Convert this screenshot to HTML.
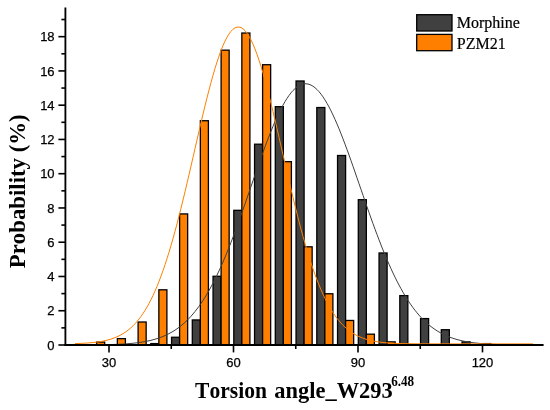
<!DOCTYPE html>
<html lang="en"><head><meta charset="utf-8"><title>Torsion angle W293 histogram</title>
<style>html,body{margin:0;padding:0;background:#fff;}svg{display:block;}</style></head>
<body>
<svg width="550" height="410" viewBox="0 0 550 410">
<rect width="550" height="410" fill="#fff"/>
<g stroke="#000" stroke-width="1.3">
<rect x="150.80" y="343.59" width="8.05" height="1.41" fill="#404040"/>
<rect x="171.55" y="337.26" width="8.05" height="7.74" fill="#404040"/>
<rect x="192.30" y="319.95" width="8.05" height="25.05" fill="#404040"/>
<rect x="213.05" y="276.27" width="8.05" height="68.73" fill="#404040"/>
<rect x="233.80" y="210.32" width="8.05" height="134.68" fill="#404040"/>
<rect x="254.55" y="144.20" width="8.05" height="200.80" fill="#404040"/>
<rect x="275.30" y="106.69" width="8.05" height="238.31" fill="#404040"/>
<rect x="296.05" y="80.99" width="8.05" height="264.01" fill="#404040"/>
<rect x="316.80" y="107.54" width="8.05" height="237.46" fill="#404040"/>
<rect x="337.55" y="155.51" width="8.05" height="189.49" fill="#404040"/>
<rect x="358.30" y="199.70" width="8.05" height="145.30" fill="#404040"/>
<rect x="379.05" y="252.98" width="8.05" height="92.02" fill="#404040"/>
<rect x="399.80" y="295.63" width="8.05" height="49.37" fill="#404040"/>
<rect x="420.55" y="318.58" width="8.05" height="26.42" fill="#404040"/>
<rect x="441.30" y="329.72" width="8.05" height="15.28" fill="#404040"/>
<rect x="462.05" y="341.87" width="8.05" height="3.13" fill="#404040"/>
<rect x="482.80" y="343.59" width="8.05" height="1.41" fill="#404040"/>
<rect x="96.60" y="342.05" width="8.05" height="2.95" fill="#ff8000"/>
<rect x="117.35" y="338.63" width="8.05" height="6.37" fill="#ff8000"/>
<rect x="138.10" y="322.01" width="8.05" height="22.99" fill="#ff8000"/>
<rect x="158.85" y="289.81" width="8.05" height="55.19" fill="#ff8000"/>
<rect x="179.60" y="213.92" width="8.05" height="131.08" fill="#ff8000"/>
<rect x="200.35" y="120.73" width="8.05" height="224.27" fill="#ff8000"/>
<rect x="221.10" y="50.16" width="8.05" height="294.84" fill="#ff8000"/>
<rect x="241.85" y="33.03" width="8.05" height="311.97" fill="#ff8000"/>
<rect x="262.60" y="64.72" width="8.05" height="280.28" fill="#ff8000"/>
<rect x="283.35" y="161.67" width="8.05" height="183.33" fill="#ff8000"/>
<rect x="304.10" y="246.81" width="8.05" height="98.19" fill="#ff8000"/>
<rect x="324.85" y="293.75" width="8.05" height="51.25" fill="#ff8000"/>
<rect x="345.60" y="320.47" width="8.05" height="24.53" fill="#ff8000"/>
<rect x="366.35" y="334.17" width="8.05" height="10.83" fill="#ff8000"/>
<rect x="387.10" y="341.87" width="8.05" height="3.13" fill="#ff8000"/>
</g>
<polyline fill="none" stroke="#404040" stroke-width="1" points="75.0,344.97 77.0,344.96 79.0,344.95 81.0,344.95 83.0,344.94 85.0,344.93 87.0,344.92 89.0,344.90 91.0,344.89 93.0,344.87 95.0,344.85 97.0,344.83 99.0,344.80 101.0,344.77 103.0,344.74 105.0,344.70 107.0,344.66 109.0,344.61 111.0,344.55 113.0,344.49 115.0,344.42 117.0,344.34 119.0,344.25 121.0,344.15 123.0,344.04 125.0,343.92 127.0,343.78 129.0,343.62 131.0,343.45 133.0,343.26 135.0,343.04 137.0,342.81 139.0,342.54 141.0,342.25 143.0,341.93 145.0,341.58 147.0,341.19 149.0,340.77 151.0,340.30 153.0,339.79 155.0,339.23 157.0,338.62 159.0,337.95 161.0,337.23 163.0,336.44 165.0,335.58 167.0,334.66 169.0,333.65 171.0,332.57 173.0,331.40 175.0,330.14 177.0,328.79 179.0,327.33 181.0,325.78 183.0,324.11 185.0,322.33 187.0,320.43 189.0,318.41 191.0,316.25 193.0,313.97 195.0,311.55 197.0,308.99 199.0,306.29 201.0,303.44 203.0,300.44 205.0,297.29 207.0,293.98 209.0,290.52 211.0,286.90 213.0,283.13 215.0,279.19 217.0,275.11 219.0,270.87 221.0,266.47 223.0,261.93 225.0,257.24 227.0,252.42 229.0,247.46 231.0,242.37 233.0,237.17 235.0,231.85 237.0,226.43 239.0,220.91 241.0,215.32 243.0,209.65 245.0,203.93 247.0,198.16 249.0,192.37 251.0,186.55 253.0,180.74 255.0,174.95 257.0,169.18 259.0,163.47 261.0,157.82 263.0,152.26 265.0,146.80 267.0,141.45 269.0,136.25 271.0,131.20 273.0,126.32 275.0,121.63 277.0,117.15 279.0,112.89 281.0,108.87 283.0,105.11 285.0,101.61 287.0,98.39 289.0,95.47 291.0,92.85 293.0,90.55 295.0,88.57 297.0,86.93 299.0,85.62 301.0,84.66 303.0,84.04 305.0,83.78 307.0,83.87 309.0,84.31 311.0,85.09 313.0,86.23 315.0,87.71 317.0,89.52 319.0,91.66 321.0,94.12 323.0,96.89 325.0,99.97 327.0,103.32 329.0,106.96 331.0,110.85 333.0,114.99 335.0,119.37 337.0,123.95 339.0,128.74 341.0,133.70 343.0,138.83 345.0,144.11 347.0,149.51 349.0,155.03 351.0,160.64 353.0,166.32 355.0,172.06 357.0,177.84 359.0,183.65 361.0,189.46 363.0,195.27 365.0,201.05 367.0,206.80 369.0,212.49 371.0,218.12 373.0,223.68 375.0,229.15 377.0,234.52 379.0,239.78 381.0,244.93 383.0,249.96 385.0,254.85 387.0,259.61 389.0,264.22 391.0,268.69 393.0,273.01 395.0,277.17 397.0,281.18 399.0,285.03 401.0,288.73 403.0,292.27 405.0,295.65 407.0,298.88 409.0,301.96 411.0,304.88 413.0,307.66 415.0,310.29 417.0,312.78 419.0,315.13 421.0,317.35 423.0,319.43 425.0,321.39 427.0,323.23 429.0,324.96 431.0,326.57 433.0,328.07 435.0,329.48 437.0,330.78 439.0,332.00 441.0,333.12 443.0,334.16 445.0,335.13 447.0,336.02 449.0,336.84 451.0,337.60 453.0,338.29 455.0,338.93 457.0,339.52 459.0,340.05 461.0,340.54 463.0,340.99 465.0,341.39 467.0,341.76 469.0,342.10 471.0,342.40 473.0,342.68 475.0,342.93 477.0,343.15 479.0,343.35 481.0,343.54 483.0,343.70 485.0,343.85 487.0,343.98 489.0,344.10 491.0,344.20 493.0,344.30 495.0,344.38 497.0,344.46 499.0,344.52 501.0,344.58 503.0,344.63 505.0,344.68 507.0,344.72 509.0,344.75 511.0,344.79 513.0,344.81 515.0,344.84 517.0,344.86 519.0,344.88 521.0,344.89 523.0,344.91 525.0,344.92 527.0,344.93 529.0,344.94 531.0,344.95 533.0,344.96"/>
<polyline fill="none" stroke="#ff8000" stroke-width="1" points="75.0,343.56 77.0,343.50 79.0,343.44 81.0,343.35 83.0,343.26 85.0,343.15 87.0,343.03 89.0,342.88 91.0,342.72 93.0,342.53 95.0,342.31 97.0,342.06 99.0,341.78 101.0,341.45 103.0,341.08 105.0,340.67 107.0,340.19 109.0,339.66 111.0,339.06 113.0,338.39 115.0,337.64 117.0,336.80 119.0,335.86 121.0,334.82 123.0,333.66 125.0,332.38 127.0,330.96 129.0,329.40 131.0,327.68 133.0,325.80 135.0,323.75 137.0,321.50 139.0,319.06 141.0,316.40 143.0,313.53 145.0,310.42 147.0,307.08 149.0,303.48 151.0,299.62 153.0,295.49 155.0,291.09 157.0,286.40 159.0,281.43 161.0,276.17 163.0,270.61 165.0,264.77 167.0,258.63 169.0,252.21 171.0,245.51 173.0,238.53 175.0,231.30 177.0,223.81 179.0,216.09 181.0,208.16 183.0,200.03 185.0,191.73 187.0,183.28 189.0,174.72 191.0,166.06 193.0,157.35 195.0,148.62 197.0,139.89 199.0,131.22 201.0,122.64 203.0,114.18 205.0,105.90 207.0,97.82 209.0,90.00 211.0,82.47 213.0,75.27 215.0,68.44 217.0,62.02 219.0,56.05 221.0,50.55 223.0,45.57 225.0,41.13 227.0,37.26 229.0,33.98 231.0,31.31 233.0,29.27 235.0,27.87 237.0,27.12 239.0,27.02 241.0,27.58 243.0,28.78 245.0,30.63 247.0,33.12 249.0,36.21 251.0,39.91 253.0,44.18 255.0,49.00 257.0,54.35 259.0,60.18 261.0,66.47 263.0,73.18 265.0,80.27 267.0,87.71 269.0,95.45 271.0,103.45 273.0,111.68 275.0,120.09 277.0,128.64 279.0,137.29 281.0,146.00 283.0,154.73 285.0,163.45 287.0,172.13 289.0,180.73 291.0,189.21 293.0,197.56 295.0,205.74 297.0,213.73 299.0,221.52 301.0,229.08 303.0,236.39 305.0,243.44 307.0,250.23 309.0,256.73 311.0,262.96 313.0,268.89 315.0,274.53 317.0,279.88 319.0,284.94 321.0,289.71 323.0,294.20 325.0,298.41 327.0,302.35 329.0,306.02 331.0,309.45 333.0,312.62 335.0,315.57 337.0,318.28 339.0,320.79 341.0,323.09 343.0,325.21 345.0,327.14 347.0,328.90 349.0,330.51 351.0,331.97 353.0,333.29 355.0,334.48 357.0,335.56 359.0,336.53 361.0,337.40 363.0,338.17 365.0,338.87 367.0,339.49 369.0,340.04 371.0,340.53 373.0,340.96 375.0,341.35 377.0,341.68 379.0,341.98 381.0,342.24 383.0,342.47 385.0,342.66 387.0,342.84 389.0,342.99 391.0,343.12 393.0,343.23 395.0,343.33 397.0,343.41 399.0,343.48 401.0,343.55 403.0,343.60 405.0,343.64 407.0,343.68 409.0,343.72 411.0,343.74 413.0,343.77 415.0,343.79 417.0,343.80 419.0,343.82 421.0,343.83 423.0,343.84 425.0,343.85 427.0,343.85 429.0,343.86 431.0,343.86 433.0,343.87 435.0,343.87 437.0,343.87 439.0,343.88 441.0,343.88 443.0,343.88 445.0,343.88 447.0,343.88 449.0,343.88 451.0,343.88 453.0,343.88 455.0,343.88 457.0,343.89 459.0,343.89 461.0,343.89 463.0,343.89 465.0,343.89 467.0,343.89 469.0,343.89 471.0,343.89 473.0,343.89 475.0,343.89 477.0,343.89 479.0,343.89 481.0,343.89 483.0,343.89 485.0,343.89 487.0,343.89 489.0,343.89 491.0,343.89 493.0,343.89 495.0,343.89 497.0,343.89 499.0,343.89 501.0,343.89 503.0,343.89 505.0,343.89 507.0,343.89 509.0,343.89 511.0,343.89 513.0,343.89 515.0,343.89 517.0,343.89 519.0,343.89 521.0,343.89 523.0,343.89 525.0,343.89 527.0,343.89 529.0,343.89 531.0,343.89 533.0,343.89"/>
<g stroke="#000" stroke-width="1.6" fill="none">
<path d="M65.4 7.6V345.9" stroke-width="1.85"/>
<path d="M64.5 345.0H543.6" stroke-width="1.85"/>
<path d="M58.4 345.00H65.4"/>
<path d="M61.4 327.87H65.4"/>
<path d="M58.4 310.74H65.4"/>
<path d="M61.4 293.61H65.4"/>
<path d="M58.4 276.48H65.4"/>
<path d="M61.4 259.35H65.4"/>
<path d="M58.4 242.22H65.4"/>
<path d="M61.4 225.09H65.4"/>
<path d="M58.4 207.96H65.4"/>
<path d="M61.4 190.83H65.4"/>
<path d="M58.4 173.70H65.4"/>
<path d="M61.4 156.57H65.4"/>
<path d="M58.4 139.44H65.4"/>
<path d="M61.4 122.31H65.4"/>
<path d="M58.4 105.18H65.4"/>
<path d="M61.4 88.05H65.4"/>
<path d="M58.4 70.92H65.4"/>
<path d="M61.4 53.79H65.4"/>
<path d="M58.4 36.66H65.4"/>
<path d="M61.4 19.53H65.4"/>
<path d="M109.00 345.0V352.4"/>
<path d="M171.25 345.0V349.0"/>
<path d="M233.50 345.0V352.4"/>
<path d="M295.75 345.0V349.0"/>
<path d="M358.00 345.0V352.4"/>
<path d="M420.25 345.0V349.0"/>
<path d="M482.50 345.0V352.4"/>
</g>
<g font-family="'Liberation Sans', Arial, sans-serif" font-size="13" fill="#000" stroke="#000" stroke-width="0.25">
<text x="54.6" y="349.60" text-anchor="end">0</text>
<text x="54.6" y="315.34" text-anchor="end">2</text>
<text x="54.6" y="281.08" text-anchor="end">4</text>
<text x="54.6" y="246.82" text-anchor="end">6</text>
<text x="54.6" y="212.56" text-anchor="end">8</text>
<text x="54.6" y="178.30" text-anchor="end">10</text>
<text x="54.6" y="144.04" text-anchor="end">12</text>
<text x="54.6" y="109.78" text-anchor="end">14</text>
<text x="54.6" y="75.52" text-anchor="end">16</text>
<text x="54.6" y="41.26" text-anchor="end">18</text>
<text x="109.00" y="367.2" text-anchor="middle">30</text>
<text x="233.50" y="367.2" text-anchor="middle">60</text>
<text x="358.00" y="367.2" text-anchor="middle">90</text>
<text x="482.50" y="367.2" text-anchor="middle">120</text>
</g>
<g font-family="'Liberation Serif', 'Times New Roman', serif" font-weight="bold" fill="#000" style="font-kerning:none">
<text transform="translate(25.3 268.2) rotate(-90)" font-size="22.8">Probability (%)</text>
<text transform="translate(195.1 398.4) scale(0.945 1)" font-size="22.8">Torsion</text>
<text transform="translate(274.3 398.4) scale(0.985 1)" font-size="22.8">angle_W293</text>
<text transform="translate(391.2 386.4) scale(0.9 1)" font-size="14.6">6.48</text>
</g>
<g stroke="#000" stroke-width="1.3">
<rect x="416.7" y="14.7" width="35.3" height="16.3" fill="#404040"/>
<rect x="416.7" y="34.4" width="35.3" height="16.3" fill="#ff8000"/>
</g>
<g font-family="'Liberation Serif', 'Times New Roman', serif" font-size="16" fill="#000" stroke="#000" stroke-width="0.2" style="font-kerning:none">
<text x="456.8" y="28.2">Morphine</text>
<text x="456.8" y="49">PZM21</text>
</g>
</svg>
</body></html>
